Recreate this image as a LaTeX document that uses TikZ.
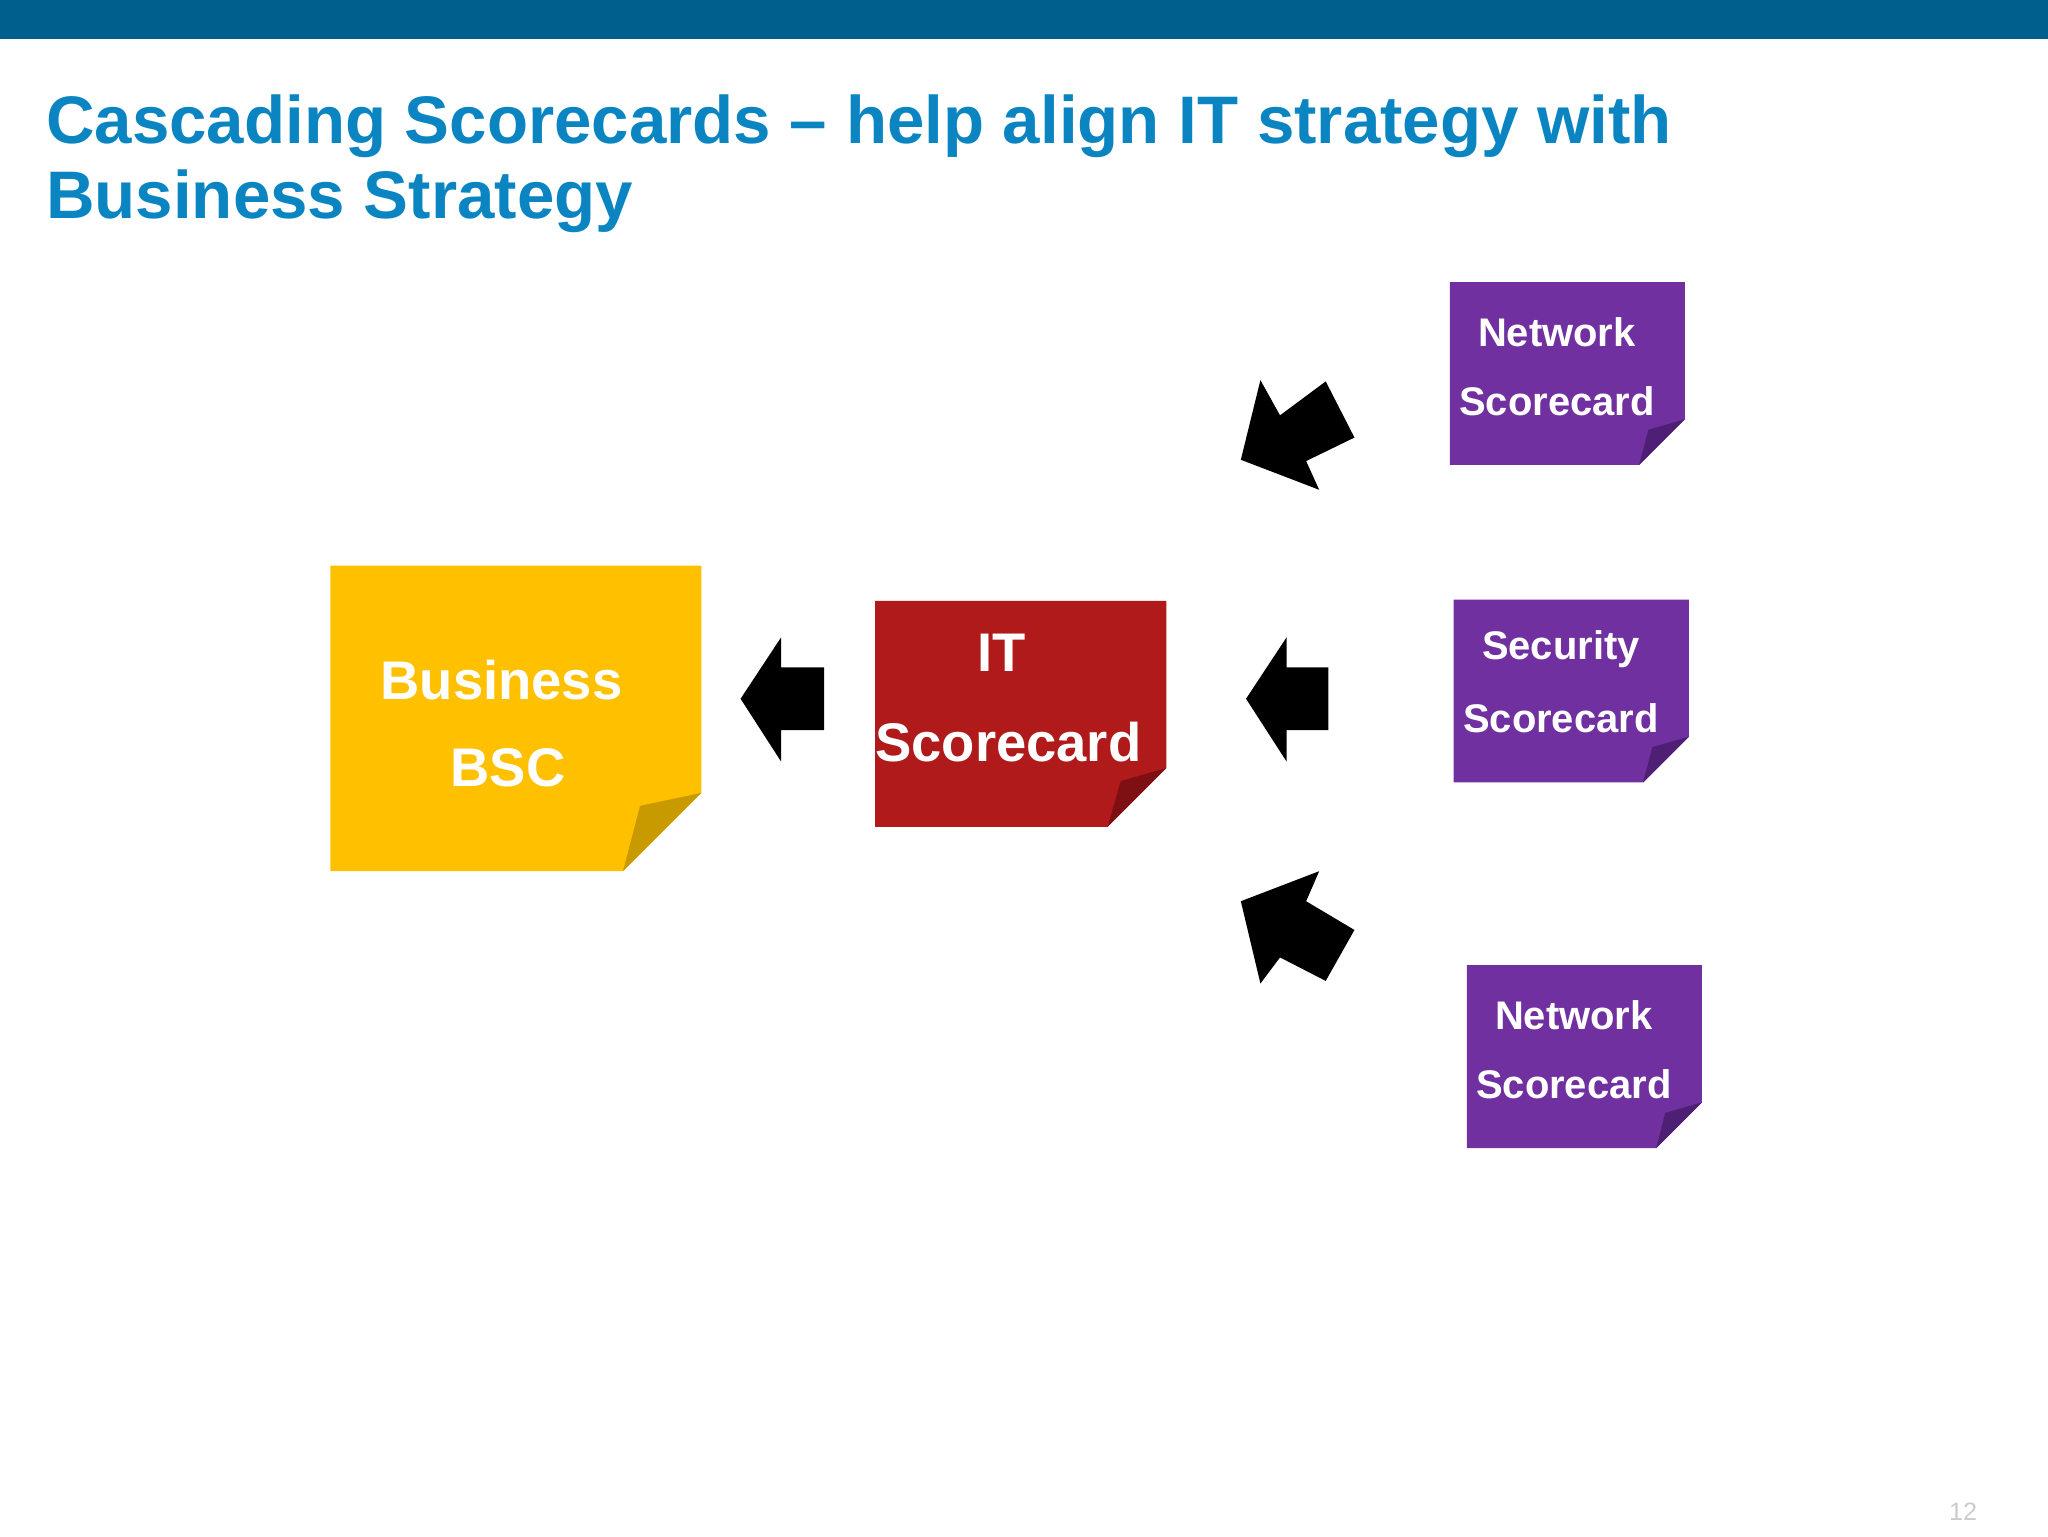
\documentclass[tikz,border=0pt]{standalone}
\usepackage{fontspec}
\setmainfont{Liberation Sans}
\definecolor{barblue}{HTML}{005F8C}
\definecolor{titleblue}{HTML}{0A85C2}
\definecolor{yel}{HTML}{FFC000}
\definecolor{yeld}{HTML}{C99A00}
\definecolor{itred}{HTML}{B01A1A}
\definecolor{itredd}{HTML}{7E1014}
\definecolor{purp}{HTML}{7030A0}
\definecolor{purpd}{HTML}{4E1F74}
\begin{document}
\begin{tikzpicture}[x=0.2mm,y=-0.2mm,
  lbl/.style={text=white,font=\bfseries\fontsize{17.4}{20}\selectfont,inner sep=0},
  big/.style={text=white,font=\bfseries\fontsize{23.7}{28}\selectfont,inner sep=0},
  blk/.style={fill=black}]
\useasboundingbox (0,0) rectangle (1568,1176);
\fill[barblue] (0,0) rectangle (1568,30);
\node[anchor=base west,inner sep=0,text=titleblue,font=\bfseries\fontsize{29.3}{34}\selectfont] (t1) at (35,110) {Cascading Scorecards – help align IT strategy with};
\node[anchor=base west,inner sep=0,text=titleblue,font=\bfseries\fontsize{29.3}{34}\selectfont] (t2) at (35,167) {Business Strategy};
% Business
\fill[yel] (253,433) -- (537,433) -- (537,607) -- (477,667) -- (253,667) -- cycle;
\fill[yeld] (477,667) -- (490,617) -- (537,607) -- cycle;
\node[big] (b1) at (384,521) {Business};
\node[big] (b2) at (389,588) {BSC};
% IT
\fill[itred] (670,460) -- (893,460) -- (893,588) -- (848,633) -- (670,633) -- cycle;
\fill[itredd] (848,633) -- (858,598) -- (893,588) -- cycle;
\node[big] (i1) at (767,500) {IT};
\node[big] (i2) at (772,568) {Scorecard};
% purple
\foreach \x/\y/\a/\b/\n in {1110/216/Network/Scorecard/n1,1113/459/Security/Scorecard/s1,1123/739/Network/Scorecard/n2}{
  \fill[purp] (\x,\y) -- ++(180,0) -- ++(0,105) -- ++(-35,35) -- ++(-145,0) -- cycle;
  \fill[purpd] (\x+145,\y+140) -- (\x+152,\y+113) -- (\x+180,\y+105) -- cycle;
  \node[lbl] (\n a) at (\x+82,\y+38) {\a};
  \node[lbl] (\n b) at (\x+82,\y+91) {\b};
}
% arrows
\fill[blk] (567,535) -- (598,488) -- (598,511) -- (631,511) -- (631,559) -- (598,559) -- (598,583) -- cycle;
\fill[blk] (954,535) -- (985,488) -- (985,511) -- (1017,511) -- (1017,559) -- (985,559) -- (985,583) -- cycle;
\fill[blk] (950,352) -- (965,291) -- (980,318) -- (1015,292) -- (1037,335) -- (1000,353) -- (1010,375) -- cycle;
\fill[blk] (950,690) -- (1010,667) -- (1000,690) -- (1037,712) -- (1015,751) -- (980,733) -- (965,753) -- cycle;
\node[text=black!20,font=\fontsize{11}{13}\selectfont] (pg) at (1503,1157) {12};
\end{tikzpicture}
\end{document}
